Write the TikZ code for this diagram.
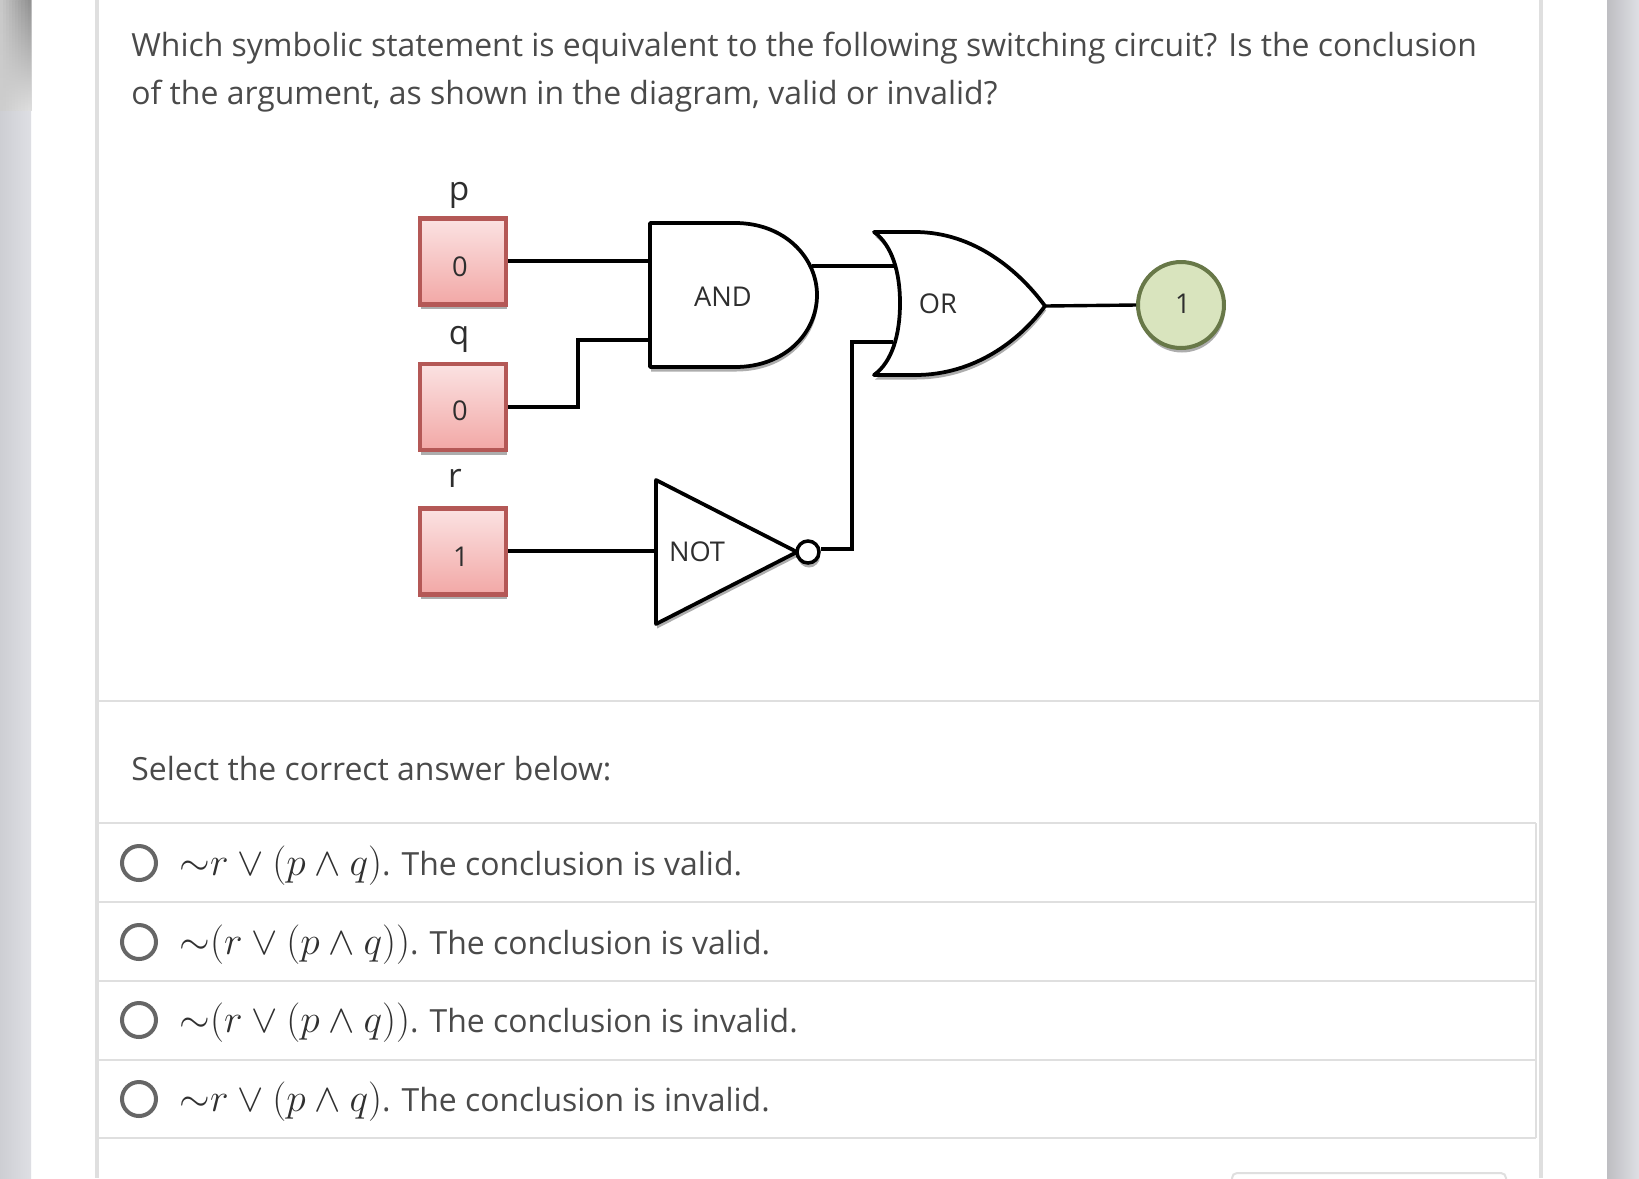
\documentclass[tikz,border=0pt]{standalone}
\usepackage{fontspec}
\setmainfont{Open Sans}
\usetikzlibrary{shadows}
\definecolor{ink}{HTML}{4A4A4A}
\definecolor{rule}{HTML}{DFDFDF}
\definecolor{mathink}{HTML}{303030}
\newcommand{\fml}[1]{\textcolor{mathink}{\scalebox{1.30}{$#1$}}}
\tikzset{
  x=0.02cm,y=-0.02cm,
  softshadow/.style={drop shadow={shadow xshift=0.02cm,shadow yshift=-0.09cm,opacity=.4,fill=black!80}},
  inbox/.style={draw={rgb,255:red,180;green,88;blue,86},line width=0.085cm,minimum width=1.72cm,minimum height=1.72cm,top color={rgb,255:red,251;green,226;blue,226},bottom color={rgb,255:red,242;green,168;blue,166},softshadow,inner sep=0pt},
  outcirc/.style={circle,draw={rgb,255:red,104;green,120;blue,72},line width=0.08cm,minimum size=1.72cm,fill={rgb,255:red,217;green,228;blue,190},softshadow,inner sep=0pt},
  bubble/.style={circle,draw=black,line width=0.07cm,fill=white,minimum size=0.44cm,inner sep=0pt,softshadow},
  gate/.style={draw=black,line width=0.075cm,fill=white,line join=round,softshadow},
  wire/.style={draw=black,line width=0.068cm},
  gatetext/.style={font=\fontsize{15.5pt}{18pt}\selectfont,text=black!82,inner sep=0pt},
  varname/.style={font=\fontsize{19pt}{22pt}\selectfont,text=black!82,inner sep=0pt},
  body/.style={font=\fontsize{18.17pt}{23pt}\selectfont,text=ink,anchor=base west,inner sep=0pt},
  radio/.style={circle,draw={rgb,255:red,102;green,102;blue,102},line width=0.08cm,minimum size=0.68cm,inner sep=0pt},
  rulev/.style={draw=rule,line width=0.08cm},
  ruleh/.style={draw=rule,line width=0.04cm}
}
\begin{document}
\begin{tikzpicture}
\useasboundingbox (0,0) rectangle (1639,1178);
\fill[white] (0,0) rectangle (1639,1178);
% side strips
\shade[left color={rgb,255:red,205;green,206;blue,211},right color={rgb,255:red,222;green,223;blue,228}] (0,0) rectangle (31,1178);
\foreach \k in {0,...,9}{
  \pgfmathtruncatemacro{\tp}{200-6*\k}
  \pgfmathtruncatemacro{\bt}{205+1.9*\k}
  \shade[top color={rgb,255:red,\tp;green,\tp;blue,\tp},bottom color={rgb,255:red,\bt;green,\bt;blue,\bt}] ({\k*3.1},0) rectangle (31,110);
}
\shade[left color={rgb,255:red,190;green,190;blue,194},right color={rgb,255:red,222;green,223;blue,228}] (1607,0) rectangle (1639,1178);
% panel rules
\draw[rulev] (97,0) -- (97,1178);
\draw[rulev] (1541,0) -- (1541,1178);
\draw[ruleh] (99,701) -- (1539,701);
\draw[ruleh] (99,823) -- (1536,823);
\draw[ruleh] (99,902) -- (1536,902);
\draw[ruleh] (99,981) -- (1536,981);
\draw[ruleh] (99,1060) -- (1536,1060);
\draw[ruleh] (99,1138) -- (1536,1138);
\draw[ruleh] (1536,823) -- (1536,1138);
\draw[ruleh,rounded corners=0.1cm] (1232,1190) -- (1232,1173) -- (1506,1173) -- (1506,1190);
% question text
\node[body] (q1) at (131,56) {Which symbolic statement is equivalent to the following switching circuit? Is the conclusion};
\node[body] (q2) at (131,104) {of the argument, as shown in the diagram, valid or invalid?};
\node[body] (sel) at (131,780) {Select the correct answer below:};
% variable names
\node[varname,anchor=base] (pn) at (459,200) {p};
\node[varname,anchor=base] (qn) at (459,344) {q};
\node[varname,anchor=base] (rn) at (455,487) {r};
% input boxes
\node[inbox] (pb) at (463,261.5) {};
\node[inbox] (qb) at (463,407) {};
\node[inbox] (rb) at (463,551.5) {};
\node[gatetext] (pv) at (460,266.5) {0};
\node[gatetext] (qv) at (460,411) {0};
\node[gatetext] (rv) at (461,557) {1};
% port coordinates
\coordinate (andA) at (650,261);
\coordinate (andB) at (650,340);
\coordinate (qbend) at (578,340);
\coordinate (andO) at (812,266);
\coordinate (orA) at (895,266);
\coordinate (orB) at (893,342);
\coordinate (orbend) at (852,342);
\coordinate (orO) at (1045,306);
\coordinate (notA) at (656,551);
\coordinate (notbend) at (852,549);
% gates
\draw[gate] (650,223) -- (735,223) .. controls (785,223) and (817,258) .. (817,295) .. controls (817,333) and (785,367) .. (735,367) -- (650,367) -- cycle;
\draw[gate] (874,232) -- (915,232) .. controls (975,232) and (1020,272) .. (1045,306) .. controls (1020,340) and (975,375) .. (915,375) -- (874,375) .. controls (892,362) and (900,335) .. (900,303) .. controls (900,272) and (892,245) .. (874,232) -- cycle;
\draw[gate] (656,480) -- (797,552) -- (656,624) -- cycle;
\node[bubble] (bub) at (808,552) {};
\node[outcirc] (res) at (1181,305) {};
\node[gatetext] (resv) at (1183,303.5) {1};
% gate labels
\node[gatetext] (andt) at (723,297) {AND};
\node[gatetext] (ort) at (938,304) {OR};
\node[gatetext] (nott) at (697,552) {NOT};
% wires
\draw[wire] (pb.east |- andA) -- (andA);
\draw[wire] (qb.east) -- (qbend |- qb.east) -- (qbend) -- (andB);
\draw[wire] (rb.east |- notA) -- (notA);
\draw[wire] (andO) -- (orA);
\draw[wire] (orB) -- (orbend) -- (notbend) -- (bub.east |- notbend);
\draw[wire] (orO) -- (res.west);
% answers
\node[radio] (r1) at (139,863) {};
\node[radio] (r2) at (139,942) {};
\node[radio] (r3) at (139,1020) {};
\node[radio] (r4) at (139,1099) {};
\node[body] (a1) at (179,875) {\fml{\mathord{\sim} r\vee(p\wedge q)}. The conclusion is valid.};
\node[body] (a2) at (179,954) {\fml{\mathord{\sim}(r\vee(p\wedge q))}. The conclusion is valid.};
\node[body] (a3) at (179,1032) {\fml{\mathord{\sim}(r\vee(p\wedge q))}. The conclusion is invalid.};
\node[body] (a4) at (179,1111) {\fml{\mathord{\sim} r\vee(p\wedge q)}. The conclusion is invalid.};
\end{tikzpicture}
\end{document}
